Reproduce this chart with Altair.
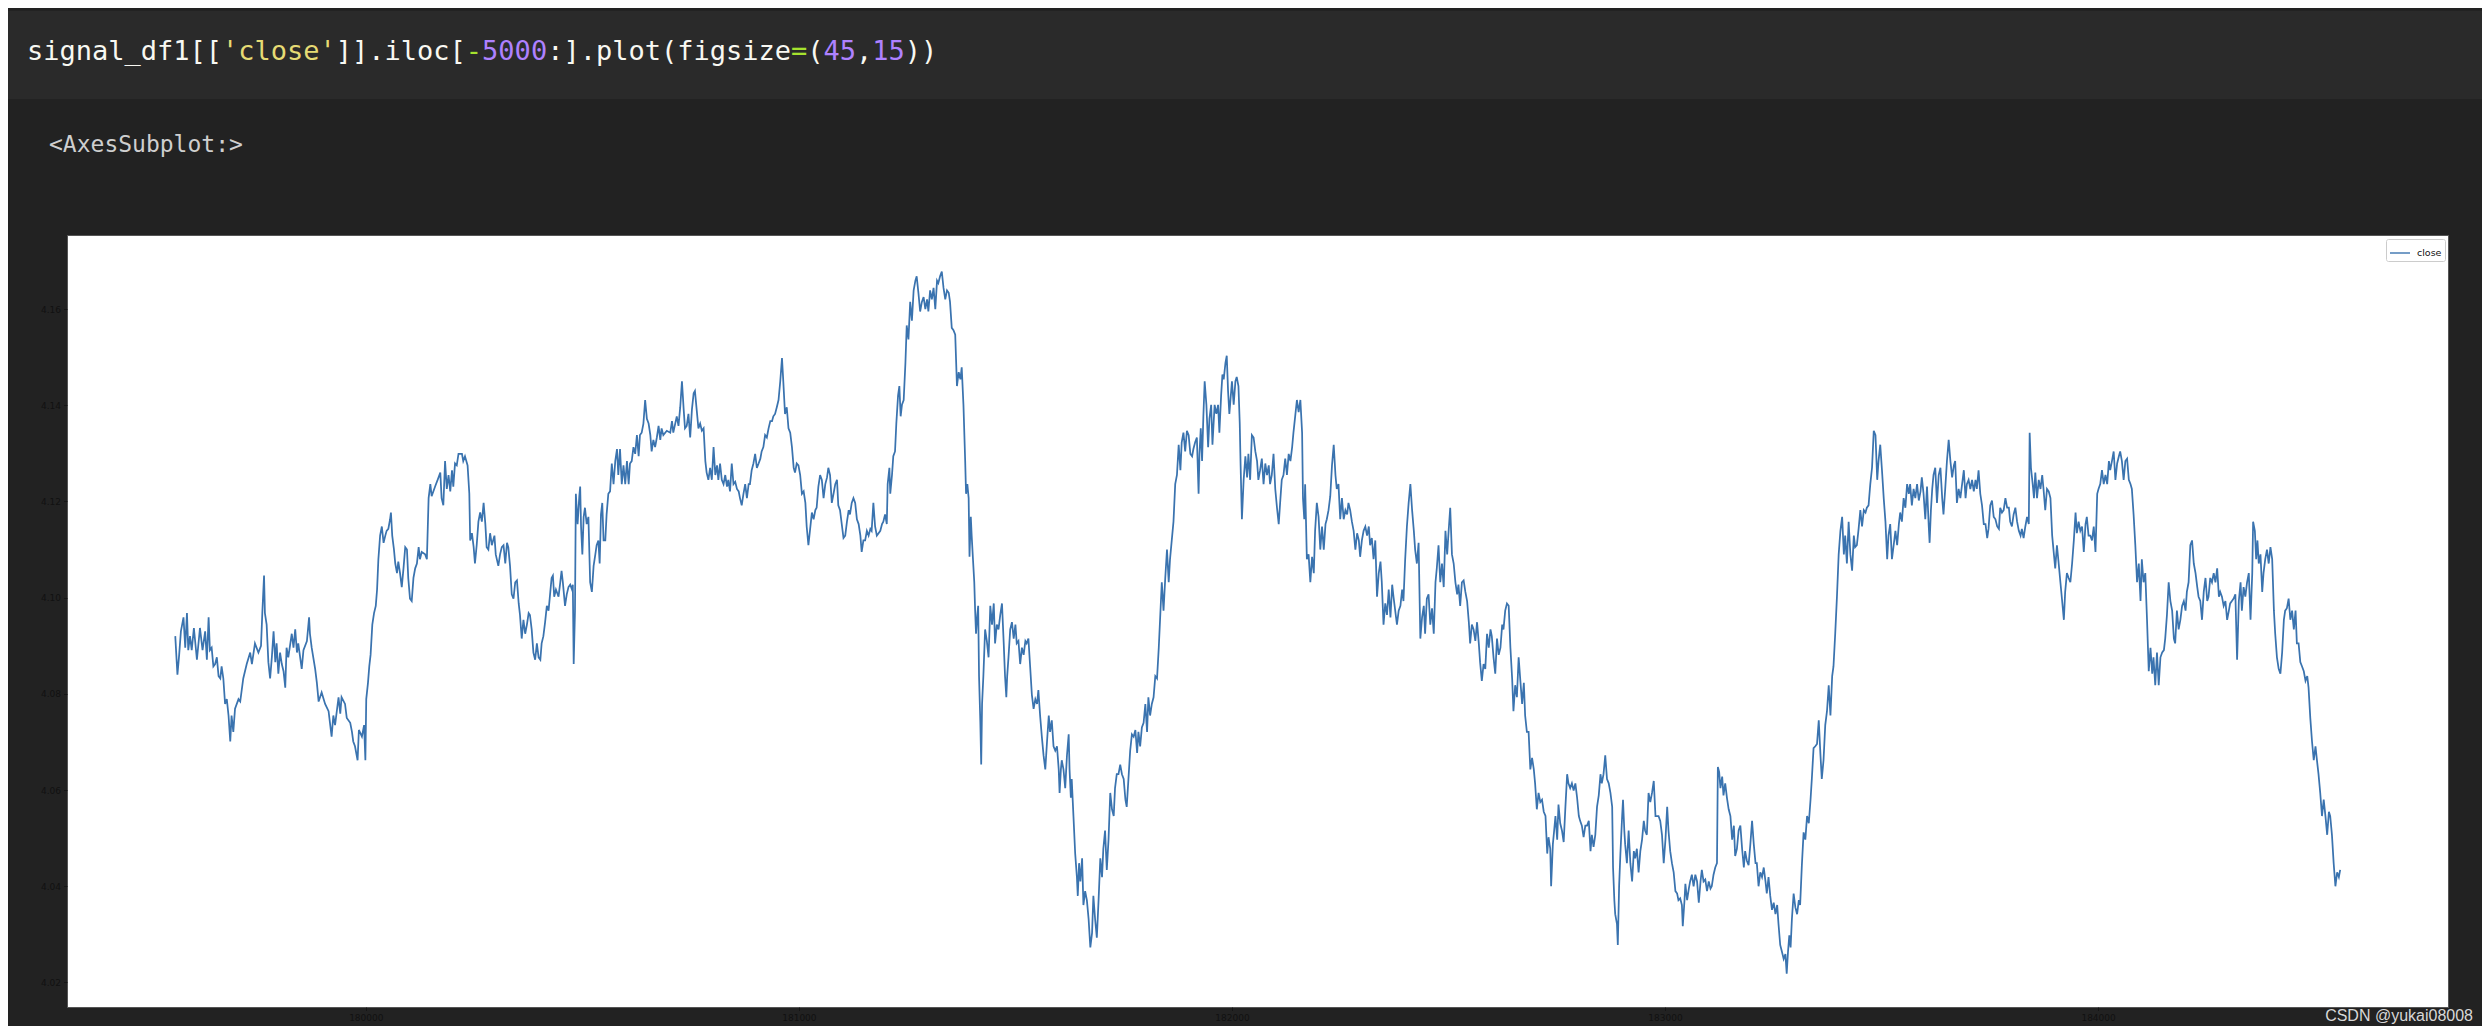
import altair as alt
import pandas as pd

# ---- series: (index, close) ----
seg_a = [(179560,4.0920),(179565,4.0840),(179569,4.0881),(179573,4.0930),(179579,4.0959),(179583,4.0896),(179587,4.0968),(179590,4.0891),(179594,4.0920),(179598,4.0891),(179603,4.0937),(179610,4.0871),(179617,4.0937),(179623,4.0891),(179629,4.0930),(179633,4.0871),(179637,4.0959),(179640,4.0891),(179644,4.0896),(179648,4.0857),(179652,4.0862),(179656,4.0876),(179660,4.0837),(179664,4.0832),(179667,4.0857),(179671,4.0832),(179675,4.0779),(179679,4.0789),(179683,4.0755),(179687,4.0701),(179690,4.0755),(179694,4.0721),(179698,4.0769),(179706,4.0789),(179710,4.0784),(179717,4.0832),(179725,4.0862),(179733,4.0886),(179737,4.0862),(179744,4.0905),(179752,4.0886),(179758,4.0900),(179761,4.0968),(179765,4.1046),(179767,4.0968),(179771,4.0944),(179775,4.0866),(179779,4.0832),(179783,4.0876),(179787,4.0930),(179791,4.0866),(179794,4.0905),(179798,4.0842),(179802,4.0886),(179806,4.0862),(179810,4.0847),(179814,4.0813),(179817,4.0896),(179821,4.0876),(179829,4.0925),(179833,4.0896),(179837,4.0934),(179841,4.0886),(179844,4.0905),(179852,4.0852),(179856,4.0891),(179864,4.0910),(179869,4.0959),(179871,4.0925),(179875,4.0896),(179883,4.0852),(179887,4.0823),(179891,4.0784),(179898,4.0803),(179906,4.0779),(179914,4.0764),(179921,4.0711),(179925,4.0755),(179929,4.0735),(179937,4.0793),(179941,4.0759),(179944,4.0793),(179952,4.0779),(179956,4.0750),(179964,4.0740),(179968,4.0721),(179971,4.0701),(179975,4.0691),(179981,4.0662),(179984,4.0725),(179991,4.0711),(179996,4.0735),(179999,4.0662),(180001,4.0789),(180005,4.0823),(180008,4.0857),(180011,4.0881),(180015,4.0944),(180019,4.0968),(180023,4.0983),(180026,4.1017),(180029,4.1080),(180033,4.1129),(180037,4.1148),(180041,4.1114),(180045,4.1129),(180048,4.1139),(180052,4.1143),(180056,4.1163),(180058,4.1177),(180061,4.1129),(180065,4.1100),(180068,4.1071),(180072,4.1051),(180075,4.1075),(180079,4.1051),(180083,4.1022),(180087,4.1061),(180091,4.1105),(180095,4.1100),(180098,4.1041),(180102,4.0998),(180106,4.0993),(180110,4.1041),(180114,4.1061),(180118,4.1071),(180122,4.1105),(180125,4.1080),(180129,4.1095),(180137,4.1090),(180141,4.1080),(180145,4.1207),(180149,4.1236),(180152,4.1211),(180160,4.1231),(180168,4.1250),(180172,4.1260),(180175,4.1207),(180179,4.1192),(180183,4.1284),(180187,4.1226),(180191,4.1255),(180195,4.1221),(180199,4.1265),(180202,4.1231),(180206,4.1279),(180210,4.1275),(180214,4.1299),(180222,4.1299),(180225,4.1284),(180229,4.1294),(180235,4.1275),(180239,4.1216),(180241,4.1119),(180245,4.1134),(180249,4.1105),(180252,4.1071),(180256,4.1109),(180260,4.1158),(180264,4.1177),(180268,4.1158),(180272,4.1197),(180276,4.1153),(180279,4.1105),(180283,4.1100),(180287,4.1134),(180291,4.1109),(180297,4.1129),(180300,4.1090),(180306,4.1066),(180310,4.1090),(180314,4.1105),(180318,4.1109),(180322,4.1071),(180326,4.1114),(180329,4.1105),(180333,4.1066),(180337,4.1007),(180341,4.0998),(180345,4.1032),(180349,4.1036),(180353,4.0988),(180356,4.0964),(180360,4.0915),(180364,4.0954),(180368,4.0925),(180372,4.0944),(180376,4.0968)]

seg_b = [(180379,4.0964),(180383,4.0934),(180387,4.0886),(180391,4.0871),(180395,4.0905),(180399,4.0876),(180403,4.0871),(180406,4.0905),(180410,4.0920),(180414,4.0949),(180418,4.0983),(180422,4.0973),(180426,4.1012),(180429,4.1041),(180432,4.1046),(180435,4.1002),(180439,4.1017),(180445,4.1002),(180449,4.1032),(180452,4.1056),(180455,4.1032),(180460,4.0983),(180464,4.1007),(180468,4.1022),(180472,4.1027),(180476,4.1017),(180478,4.1027),(180480,4.0862),(180483,4.0973),(180485,4.1216),(180489,4.1153),(180493,4.1211),(180495,4.1231),(180497,4.1148),(180500,4.1090),(180503,4.1168),(180506,4.1187),(180510,4.1153),(180514,4.1168),(180518,4.1032),(180522,4.1012),(180526,4.1066),(180530,4.1090),(180533,4.1109),(180537,4.1119),(180540,4.1071),(180543,4.1173),(180546,4.1197),(180549,4.1119),(180553,4.1119),(180556,4.1173),(180560,4.1216),(180564,4.1221),(180568,4.1279),(180572,4.1236),(180576,4.1284),(180580,4.1309),(180583,4.1255),(180587,4.1309),(180591,4.1236),(180595,4.1275),(180599,4.1236),(180603,4.1284),(180607,4.1236),(180610,4.1279),(180614,4.1284),(180618,4.1313),(180622,4.1299),(180626,4.1338),(180630,4.1294),(180633,4.1338),(180637,4.1343),(180641,4.1362),(180645,4.1411),(180649,4.1372),(180653,4.1362),(180657,4.1338),(180660,4.1304),(180664,4.1328),(180668,4.1313),(180672,4.1333),(180676,4.1357),(180680,4.1328),(180683,4.1352),(180687,4.1338),(180695,4.1347),(180703,4.1343),(180707,4.1367),(180710,4.1343),(180718,4.1377),(180722,4.1357),(180726,4.1396),(180730,4.1450),(180734,4.1391),(180737,4.1352),(180741,4.1357),(180745,4.1382),(180749,4.1333),(180753,4.1391),(180757,4.1425),(180760,4.1430),(180764,4.1391),(180768,4.1352),(180772,4.1362),(180776,4.1347),(180780,4.1352),(180784,4.1284),(180787,4.1260),(180791,4.1245),(180795,4.1270),(180799,4.1245),(180803,4.1313),(180807,4.1255),(180811,4.1275),(180814,4.1245),(180818,4.1279),(180822,4.1245),(180826,4.1236),(180830,4.1255),(180834,4.1231),(180837,4.1245),(180841,4.1221),(180845,4.1279),(180849,4.1236),(180853,4.1241),(180857,4.1226),(180861,4.1221),(180864,4.1207),(180868,4.1192),(180872,4.1216),(180876,4.1236),(180880,4.1207),(180884,4.1236),(180887,4.1236),(180891,4.1265),(180895,4.1279),(180899,4.1299),(180903,4.1270),(180907,4.1279),(180911,4.1289),(180914,4.1304),(180918,4.1313),(180922,4.1338),(180926,4.1333),(180930,4.1352),(180934,4.1367),(180938,4.1367),(180941,4.1377),(180945,4.1382),(180949,4.1396),(180953,4.1411),(180957,4.1450),(180961,4.1498),(180964,4.1450),(180968,4.1382),(180972,4.1396),(180976,4.1352),(180980,4.1343),(180984,4.1313),(180988,4.1270),(180991,4.1260),(180995,4.1279),(180999,4.1275),(181003,4.1255),(181007,4.1216),(181011,4.1221),(181015,4.1197),(181018,4.1148),(181022,4.1109),(181026,4.1143),(181030,4.1177),(181034,4.1163),(181038,4.1182),(181041,4.1187),(181045,4.1231),(181049,4.1255),(181053,4.1245),(181057,4.1207),(181061,4.1236),(181065,4.1250),(181068,4.1270),(181072,4.1255),(181076,4.1197),(181080,4.1216),(181084,4.1236),(181088,4.1245),(181091,4.1192),(181095,4.1182),(181099,4.1153),(181103,4.1124),(181107,4.1129),(181111,4.1158),(181115,4.1182),(181118,4.1173),(181122,4.1197),(181126,4.1207),(181130,4.1197),(181134,4.1163),(181138,4.1153),(181142,4.1129),(181145,4.1095),(181149,4.1119),(181153,4.1119),(181157,4.1139),(181161,4.1129),(181165,4.1143),(181168,4.1139),(181172,4.1197),(181176,4.1148),(181180,4.1129),(181184,4.1134),(181188,4.1139),(181192,4.1153),(181195,4.1158),(181199,4.1173),(181203,4.1153),(181205,4.1236),(181209,4.1270),(181211,4.1216),(181215,4.1255),(181218,4.1294)]

seg_c = [(181222,4.1304),(181225,4.1362),(181229,4.1420),(181232,4.1440),(181235,4.1377),(181238,4.1401),(181242,4.1411),(181246,4.1488),(181249,4.1566),(181253,4.1537),(181257,4.1615),(181261,4.1576),(181265,4.1639),(181269,4.1659),(181272,4.1668),(181276,4.1634),(181280,4.1595),(181284,4.1615),(181288,4.1625),(181292,4.1600),(181296,4.1620),(181299,4.1595),(181303,4.1639),(181307,4.1620),(181311,4.1644),(181315,4.1600),(181319,4.1659),(181322,4.1654),(181326,4.1668),(181330,4.1678),(181334,4.1644),(181338,4.1620),(181342,4.1639),(181346,4.1634),(181349,4.1615),(181353,4.1561),(181357,4.1556),(181361,4.1547),(181365,4.1440),(181369,4.1469),(181373,4.1454),(181376,4.1479),(181380,4.1401),(181384,4.1284),(181386,4.1216),(181389,4.1236),(181392,4.1207),(181394,4.1085),(181397,4.1168),(181399,4.1129),(181402,4.1080),(181405,4.1032),(181407,4.0973),(181409,4.0925),(181412,4.0964),(181414,4.0983),(181416,4.0837),(181419,4.0740),(181421,4.0653),(181423,4.0779),(181426,4.0837),(181430,4.0934),(181434,4.0910),(181438,4.0876),(181442,4.0983),(181446,4.0944),(181450,4.0988),(181453,4.0905),(181457,4.0944),(181461,4.0934),(181465,4.0964),(181469,4.0988),(181473,4.0905),(181476,4.0837),(181479,4.0793),(181481,4.0837),(181484,4.0876),(181488,4.0934),(181492,4.0949),(181496,4.0915),(181500,4.0944),(181503,4.0905),(181507,4.0910),(181511,4.0862),(181515,4.0896),(181519,4.0881),(181523,4.0910),(181526,4.0905),(181530,4.0915),(181534,4.0857),(181538,4.0798),(181542,4.0769),(181546,4.0789),(181550,4.0779),(181553,4.0808),(181557,4.0755),(181561,4.0711),(181565,4.0672),(181569,4.0643),(181573,4.0701),(181577,4.0755),(181580,4.0721),(181584,4.0745),(181588,4.0691),(181592,4.0682),(181596,4.0691),(181600,4.0643),(181602,4.0594),(181605,4.0643),(181607,4.0662),(181611,4.0643),(181615,4.0604),(181619,4.0672),(181623,4.0716),(181625,4.0643),(181628,4.0584),(181630,4.0623),(181634,4.0546),(181638,4.0468),(181642,4.0419),(181644,4.0380),(181647,4.0448),(181650,4.0410),(181654,4.0458),(181657,4.0361),(181661,4.0390),(181665,4.0371),(181669,4.0332),(181673,4.0273),(181677,4.0303),(181680,4.0380),(181684,4.0332),(181688,4.0293),(181692,4.0371),(181696,4.0458),(181700,4.0419),(181703,4.0478),(181707,4.0516),(181711,4.0434),(181715,4.0497),(181719,4.0594),(181723,4.0560),(181727,4.0546),(181730,4.0604),(181734,4.0633),(181738,4.0633),(181742,4.0653),(181746,4.0633),(181750,4.0623),(181754,4.0580),(181757,4.0565),(181761,4.0623),(181765,4.0682),(181769,4.0716),(181773,4.0711),(181777,4.0725),(181781,4.0677),(181784,4.0721),(181788,4.0691),(181792,4.0730),(181796,4.0740),(181800,4.0779),(181804,4.0721),(181807,4.0793),(181811,4.0755),(181815,4.0779),(181819,4.0793),(181823,4.0837),(181827,4.0832),(181831,4.0896),(181834,4.0954),(181838,4.1032),(181842,4.0973),(181846,4.1041),(181850,4.1100),(181854,4.1032),(181857,4.1080),(181861,4.1119),(181865,4.1158),(181869,4.1236),(181873,4.1255),(181877,4.1318),(181881,4.1265),(181884,4.1323),(181888,4.1343),(181892,4.1304),(181896,4.1347),(181900,4.1338),(181904,4.1299),(181908,4.1294),(181911,4.1309),(181915,4.1323),(181919,4.1333),(181923,4.1216),(181925,4.1299),(181928,4.1352),(181931,4.1284),(181934,4.1377),(181937,4.1450),(181941,4.1401),(181945,4.1313),(181948,4.1372),(181952,4.1401),(181955,4.1318),(181960,4.1401),(181964,4.1382),(181968,4.1401),(181971,4.1343),(181975,4.1420),(181978,4.1464),(181981,4.1454),(181985,4.1488),(181988,4.1503),(181991,4.1430),(181994,4.1382),(181997,4.1416),(182000,4.1450),(182004,4.1401),(182008,4.1450),(182011,4.1459),(182015,4.1440),(182018,4.1362),(182020,4.1275),(182023,4.1163),(182027,4.1245),(182031,4.1294),(182035,4.1250),(182038,4.1299),(182042,4.1245),(182046,4.1338),(182050,4.1333),(182054,4.1304),(182058,4.1284),(182061,4.1245)]

seg_d = [(182065,4.1265),(182069,4.1289),(182073,4.1236),(182077,4.1279),(182081,4.1255),(182085,4.1275),(182088,4.1236),(182092,4.1255),(182096,4.1299),(182100,4.1226),(182104,4.1187),(182108,4.1153),(182112,4.1207),(182115,4.1245),(182119,4.1255),(182123,4.1289),(182127,4.1255),(182131,4.1299),(182135,4.1284),(182139,4.1313),(182142,4.1343),(182146,4.1377),(182150,4.1411),(182154,4.1386),(182158,4.1411),(182162,4.1343),(182164,4.1207),(182167,4.1163),(182169,4.1236),(182173,4.1080),(182177,4.1090),(182181,4.1032),(182185,4.1085),(182189,4.1051),(182192,4.1139),(182196,4.1197),(182200,4.1168),(182204,4.1100),(182208,4.1148),(182212,4.1100),(182216,4.1153),(182219,4.1163),(182223,4.1182),(182227,4.1211),(182231,4.1275),(182235,4.1318),(182239,4.1255),(182242,4.1226),(182246,4.1236),(182250,4.1163),(182254,4.1207),(182258,4.1163),(182262,4.1182),(182266,4.1173),(182269,4.1197),(182273,4.1182),(182277,4.1158),(182281,4.1139),(182285,4.1100),(182289,4.1134),(182293,4.1119),(182296,4.1085),(182300,4.1119),(182304,4.1139),(182308,4.1148),(182312,4.1129),(182316,4.1148),(182319,4.1109),(182323,4.1124),(182327,4.1080),(182331,4.1119),(182335,4.1002),(182339,4.1051),(182343,4.1075),(182346,4.1032),(182350,4.0944),(182354,4.0988),(182358,4.0964),(182362,4.1017),(182366,4.0959),(182370,4.1027),(182373,4.1002),(182377,4.0973),(182381,4.0944),(182385,4.0973),(182389,4.0983),(182393,4.1017),(182396,4.0993),(182400,4.1080),(182404,4.1148),(182408,4.1197),(182412,4.1236),(182416,4.1182),(182420,4.1139),(182423,4.1100),(182427,4.1071),(182431,4.1114),(182435,4.0915),(182439,4.0959),(182443,4.0983),(182446,4.0925),(182450,4.0998),(182454,4.1007),(182458,4.0944),(182462,4.0978),(182466,4.0925),(182470,4.1032),(182473,4.1061),(182477,4.1109),(182481,4.1032),(182485,4.1071),(182489,4.1022),(182493,4.1139),(182497,4.1090),(182500,4.1134),(182504,4.1187),(182508,4.1090),(182512,4.1071),(182516,4.1032),(182520,4.1007),(182523,4.1027),(182527,4.0983),(182531,4.1032),(182535,4.1036),(182539,4.1012),(182543,4.0993),(182547,4.0949),(182550,4.0905),(182554,4.0944),(182558,4.0934),(182562,4.0910),(182566,4.0949),(182570,4.0905),(182573,4.0866),(182577,4.0827),(182581,4.0862),(182585,4.0852),(182589,4.0925),(182593,4.0896),(182597,4.0934),(182600,4.0920),(182604,4.0876),(182608,4.0842),(182612,4.0915),(182616,4.0881),(182620,4.0896),(182624,4.0944),(182627,4.0934),(182631,4.0973),(182635,4.0988),(182639,4.0983),(182643,4.0896),(182647,4.0832),(182650,4.0764),(182654,4.0818),(182658,4.0793),(182662,4.0876),(182666,4.0827),(182670,4.0779),(182674,4.0823),(182677,4.0755),(182681,4.0721),(182685,4.0721),(182689,4.0643),(182693,4.0667),(182697,4.0643),(182700,4.0614),(182704,4.0560),(182708,4.0594),(182712,4.0575),(182716,4.0580),(182720,4.0555),(182724,4.0546),(182728,4.0468),(182731,4.0502),(182735,4.0478),(182737,4.0400),(182741,4.0487),(182744,4.0516),(182747,4.0546),(182751,4.0497),(182754,4.0570),(182758,4.0531),(182762,4.0516),(182766,4.0492),(182770,4.0565),(182774,4.0633),(182777,4.0614),(182781,4.0604),(182785,4.0614),(182789,4.0599),(182793,4.0614),(182797,4.0584),(182801,4.0546),(182804,4.0536),(182808,4.0526),(182812,4.0502),(182816,4.0526),(182820,4.0526),(182824,4.0536),(182828,4.0473),(182831,4.0507),(182835,4.0482),(182839,4.0507),(182843,4.0565),(182847,4.0589),(182851,4.0633),(182854,4.0614),(182858,4.0633),(182862,4.0672),(182866,4.0623),(182870,4.0614),(182874,4.0594),(182878,4.0565),(182880,4.0439),(182883,4.0371),(182885,4.0342),(182889,4.0322),(182891,4.0278),(182894,4.0400),(182897,4.0468),(182901,4.0546),(182903,4.0580),(182906,4.0516)]

seg_e = [(182908,4.0487),(182912,4.0448),(182916,4.0516),(182920,4.0448),(182924,4.0410),(182928,4.0473),(182931,4.0458),(182935,4.0478),(182939,4.0429),(182943,4.0473),(182947,4.0497),(182951,4.0536),(182954,4.0516),(182958,4.0507),(182962,4.0594),(182966,4.0575),(182970,4.0594),(182974,4.0619),(182978,4.0546),(182981,4.0546),(182985,4.0546),(182989,4.0536),(182993,4.0507),(182997,4.0448),(183001,4.0497),(183005,4.0565),(183008,4.0516),(183012,4.0473),(183016,4.0448),(183020,4.0429),(183024,4.0390),(183028,4.0385),(183031,4.0371),(183035,4.0375),(183039,4.0361),(183041,4.0317),(183045,4.0371),(183047,4.0405),(183051,4.0371),(183055,4.0395),(183058,4.0410),(183062,4.0424),(183066,4.0400),(183070,4.0424),(183074,4.0410),(183078,4.0366),(183082,4.0410),(183085,4.0434),(183089,4.0410),(183093,4.0414),(183097,4.0390),(183101,4.0410),(183105,4.0395),(183108,4.0400),(183112,4.0424),(183116,4.0439),(183120,4.0448),(183122,4.0648),(183125,4.0638),(183128,4.0604),(183132,4.0628),(183135,4.0589),(183139,4.0614),(183143,4.0584),(183147,4.0560),(183151,4.0546),(183155,4.0497),(183159,4.0526),(183162,4.0463),(183166,4.0478),(183170,4.0516),(183174,4.0526),(183178,4.0478),(183182,4.0439),(183185,4.0473),(183189,4.0453),(183193,4.0444),(183197,4.0487),(183201,4.0536),(183205,4.0487),(183209,4.0448),(183212,4.0448),(183216,4.0400),(183220,4.0429),(183224,4.0419),(183228,4.0439),(183232,4.0410),(183235,4.0385),(183239,4.0419),(183243,4.0380),(183247,4.0351),(183251,4.0366),(183255,4.0342),(183259,4.0361),(183262,4.0322),(183266,4.0278),(183270,4.0264),(183274,4.0249),(183278,4.0259),(183281,4.0218),(183284,4.0264),(183287,4.0298),(183290,4.0273),(183293,4.0332),(183297,4.0385),(183301,4.0356),(183305,4.0342),(183309,4.0371),(183312,4.0361),(183316,4.0444),(183320,4.0512),(183324,4.0497),(183328,4.0546),(183332,4.0531),(183336,4.0580),(183339,4.0623),(183343,4.0687),(183347,4.0691),(183351,4.0696),(183355,4.0745),(183359,4.0672),(183362,4.0623),(183366,4.0662),(183370,4.0735),(183374,4.0764),(183378,4.0818),(183382,4.0755),(183386,4.0837),(183389,4.0857),(183393,4.0925),(183397,4.1002),(183401,4.1090),(183405,4.1139),(183409,4.1168),(183413,4.1090),(183416,4.1129),(183420,4.1071),(183424,4.1158),(183428,4.1090),(183432,4.1056),(183436,4.1129),(183439,4.1105),(183443,4.1109),(183447,4.1143),(183451,4.1182),(183455,4.1148),(183459,4.1182),(183463,4.1177),(183466,4.1187),(183470,4.1192),(183474,4.1236),(183478,4.1270),(183482,4.1347),(183486,4.1338),(183490,4.1245),(183493,4.1284),(183497,4.1318),(183501,4.1265),(183505,4.1207),(183509,4.1158),(183513,4.1080),(183516,4.1129),(183520,4.1153),(183524,4.1080),(183528,4.1109),(183532,4.1139),(183536,4.1109),(183540,4.1153),(183543,4.1177),(183547,4.1158),(183551,4.1207),(183555,4.1187),(183559,4.1236),(183563,4.1216),(183566,4.1236),(183570,4.1192),(183574,4.1226),(183578,4.1207),(183582,4.1236),(183586,4.1202),(183590,4.1221),(183593,4.1250),(183597,4.1216),(183601,4.1163),(183605,4.1231),(183609,4.1148),(183611,4.1114),(183614,4.1182),(183617,4.1226),(183620,4.1255),(183624,4.1270),(183628,4.1197),(183632,4.1255),(183636,4.1270),(183640,4.1207),(183643,4.1173),(183647,4.1226),(183651,4.1284),(183655,4.1328),(183659,4.1284),(183663,4.1250),(183667,4.1275),(183670,4.1284),(183674,4.1197),(183678,4.1226),(183682,4.1207),(183686,4.1236),(183690,4.1265),(183694,4.1207),(183697,4.1236),(183701,4.1245),(183705,4.1226),(183709,4.1245),(183713,4.1221),(183717,4.1245),(183720,4.1226),(183724,4.1265),(183728,4.1216),(183732,4.1192),(183736,4.1153)]

seg_f = [(183740,4.1153),(183744,4.1124),(183747,4.1143),(183751,4.1192),(183755,4.1202),(183759,4.1168),(183763,4.1163),(183767,4.1148),(183771,4.1143),(183774,4.1187),(183778,4.1177),(183782,4.1182),(183786,4.1207),(183790,4.1187),(183794,4.1187),(183797,4.1158),(183801,4.1148),(183805,4.1173),(183809,4.1187),(183813,4.1158),(183817,4.1139),(183821,4.1129),(183824,4.1143),(183828,4.1124),(183832,4.1148),(183836,4.1168),(183840,4.1153),(183842,4.1343),(183845,4.1270),(183849,4.1236),(183852,4.1207),(183855,4.1260),(183859,4.1207),(183863,4.1245),(183867,4.1226),(183871,4.1255),(183874,4.1226),(183878,4.1182),(183882,4.1226),(183886,4.1221),(183890,4.1207),(183894,4.1129),(183898,4.1090),(183901,4.1061),(183905,4.1109),(183909,4.1071),(183913,4.1032),(183917,4.0993),(183921,4.0954),(183924,4.1012),(183928,4.1051),(183932,4.1041),(183936,4.1032),(183940,4.1071),(183944,4.1119),(183948,4.1177),(183951,4.1134),(183955,4.1158),(183959,4.1139),(183963,4.1148),(183967,4.1095),(183971,4.1153),(183974,4.1168),(183978,4.1129),(183982,4.1129),(183986,4.1119),(183990,4.1148),(183994,4.1095),(183998,4.1216),(184001,4.1226),(184005,4.1236),(184009,4.1265),(184013,4.1236),(184017,4.1255),(184021,4.1236),(184025,4.1284),(184028,4.1265),(184032,4.1284),(184036,4.1304),(184040,4.1245),(184044,4.1279),(184048,4.1294),(184051,4.1304),(184055,4.1284),(184059,4.1245),(184063,4.1284),(184067,4.1289),(184071,4.1245),(184075,4.1236),(184078,4.1226),(184082,4.1173),(184086,4.1109),(184090,4.1032),(184094,4.1071),(184098,4.0993),(184101,4.1080),(184105,4.1032),(184109,4.1051),(184113,4.0954),(184117,4.0847),(184121,4.0896),(184125,4.0842),(184128,4.0876),(184132,4.0818),(184136,4.0886),(184140,4.0818),(184144,4.0876),(184148,4.0886),(184152,4.0891),(184155,4.0915),(184159,4.0964),(184163,4.1032),(184167,4.0993),(184171,4.0973),(184175,4.0915),(184178,4.0905),(184182,4.0973),(184186,4.0934),(184190,4.0954),(184194,4.0983),(184198,4.0993),(184202,4.0973),(184205,4.1012),(184209,4.1032),(184213,4.1109),(184217,4.1119),(184221,4.1071),(184225,4.1051),(184229,4.1022),(184232,4.1002),(184236,4.0993),(184240,4.0954),(184244,4.1012),(184248,4.1041),(184252,4.0993),(184255,4.1002),(184259,4.1041),(184263,4.1032),(184267,4.1051),(184271,4.1032),(184275,4.1061),(184279,4.1002),(184282,4.1012),(184286,4.1002),(184290,4.0983),(184294,4.0993),(184298,4.0954),(184302,4.0973),(184305,4.0988),(184309,4.0993),(184313,4.0998),(184317,4.1007),(184321,4.0871),(184325,4.0993),(184329,4.1032),(184332,4.0973),(184336,4.1022),(184340,4.1002),(184344,4.1032),(184348,4.1051),(184352,4.0954),(184356,4.1051),(184358,4.1158),(184362,4.1139),(184365,4.1080),(184368,4.1119),(184371,4.1071),(184375,4.1090),(184379,4.1012),(184382,4.1051),(184386,4.1080),(184390,4.1100),(184394,4.1071),(184398,4.1105),(184402,4.1080),(184406,4.0973),(184409,4.0925),(184413,4.0876),(184417,4.0852),(184421,4.0842),(184425,4.0886),(184429,4.0954),(184432,4.0973),(184436,4.0978),(184440,4.0998),(184444,4.0954),(184448,4.0973),(184452,4.0934),(184456,4.0973),(184459,4.0905),(184463,4.0905),(184467,4.0866),(184471,4.0857),(184475,4.0847),(184479,4.0827),(184483,4.0837),(184486,4.0813),(184490,4.0750),(184494,4.0701),(184498,4.0662),(184502,4.0691),(184506,4.0657),(184509,4.0633),(184513,4.0594),(184517,4.0546),(184521,4.0580),(184525,4.0546),(184529,4.0507),(184533,4.0555),(184536,4.0546),(184540,4.0507),(184544,4.0448),(184548,4.0400),(184552,4.0429),(184556,4.0419),(184559,4.0434)]

x_ticks = [180000, 181000, 182000, 183000, 184000]
y_ticks = [4.02, 4.04, 4.06, 4.08, 4.10, 4.12, 4.14, 4.16]
x_domain = [179310, 184808]
y_domain = [4.0149, 4.1754]
series_name = "close"

code_parts = [
    ("signal_df1[[", "#f8f8f2"),
    ("'close'", "#e6db74"),
    ("]].iloc[", "#f8f8f2"),
    ("-", "#a6e22e"),
    ("5000", "#ae81ff"),
    (":].plot(figsize", "#f8f8f2"),
    ("=", "#a6e22e"),
    ("(", "#f8f8f2"),
    ("45", "#ae81ff"),
    (",", "#f8f8f2"),
    ("15", "#ae81ff"),
    ("))", "#f8f8f2"),
]
output_text = "<AxesSubplot:>"
watermark = "CSDN @yukai08008"

# ---- build ----
points = seg_a + seg_b + seg_c + seg_d + seg_e + seg_f
df = pd.DataFrame(points, columns=["index", "close"])
df["series"] = series_name

W, H = 2381, 772
PAD = {"left": 59, "top": 227, "right": 34, "bottom": 19}
LINE = "#3a73af"
one = pd.DataFrame({"k": [0]})

line = alt.Chart(df).mark_line(strokeWidth=1.75, strokeJoin="miter").encode(
    x=alt.X("index:Q",
            scale=alt.Scale(domain=x_domain, nice=False, zero=False),
            axis=alt.Axis(values=x_ticks, format="d", title=None)),
    y=alt.Y("close:Q",
            scale=alt.Scale(domain=y_domain, nice=False, zero=False),
            axis=alt.Axis(values=y_ticks, format=".2f", title=None)),
    color=alt.Color("series:N",
                    scale=alt.Scale(domain=[series_name], range=[LINE]),
                    legend=alt.Legend(title=None, orient="none", legendX=2319, legendY=4,
                                      padding=3, strokeColor="#cccccc", fillColor="white",
                                      cornerRadius=2, symbolType="stroke", symbolSize=400,
                                      symbolStrokeWidth=1.4, labelFontSize=9.5,
                                      labelFont="DejaVu Sans", labelColor="#111111",
                                      labelOffset=6)),
)

cell_bg = alt.Chart(one).mark_rect(color="#2a2a2a").encode(
    x=alt.value(-PAD["left"]), x2=alt.value(W + PAD["right"]),
    y=alt.value(-224), y2=alt.value(-136))

layers = [cell_bg]
char_w = 27 * 0.602
pos = 0
for txt, col in code_parts:
    layers.append(
        alt.Chart(one).mark_text(text=txt, font="DejaVu Sans Mono", fontSize=27, color=col,
                                 align="left", baseline="middle").encode(
            x=alt.value(-40 + pos * char_w), y=alt.value(-183)))
    pos += len(txt)

layers.append(alt.Chart(one).mark_text(text=output_text, font="DejaVu Sans Mono", fontSize=23,
                                       color="#cfcfcf", align="left", baseline="middle").encode(
    x=alt.value(-18), y=alt.value(-90)))
layers.append(alt.Chart(one).mark_text(text=watermark, font="Liberation Sans", fontSize=16,
                                       color="#d8d8d8", align="right", baseline="middle").encode(
    x=alt.value(2406), y=alt.value(781)))
layers.append(line)

chart = alt.layer(*layers).properties(
    width=W, height=H,
    padding=PAD,
    autosize=alt.AutoSizeParams(type="none"),
    background="#222222",
).configure_view(
    fill="white", stroke="#555555", strokeWidth=1,
).configure_axis(
    labelFont="DejaVu Sans", labelFontSize=9, labelColor="#111111",
    tickColor="#111111", tickSize=3.5, tickWidth=0.8, labelPadding=3,
    domain=False, grid=False,
)

chart.save("out.html", embed_options={"renderer": "svg", "actions": False})
